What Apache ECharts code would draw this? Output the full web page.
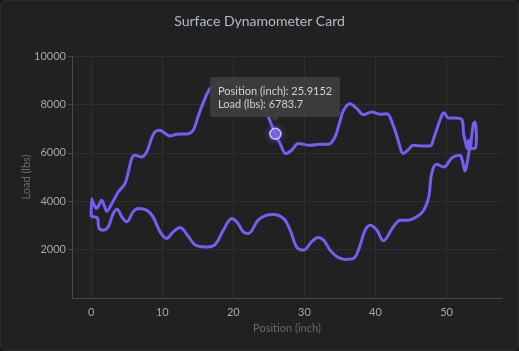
<!DOCTYPE html>
<html>
<head>
<meta charset="utf-8">
<script src="https://cdn.jsdelivr.net/npm/echarts@6/dist/echarts.min.js"></script>
<style>
  html, body { margin: 0; padding: 0; background: #171717; }
  #chart { width: 517px; height: 349px; background: #212121; border: 1px solid #2c2c2c; border-radius: 6px; }
</style>
</head>
<body>
<div id="chart"></div>
<script>
// position (inch) and load (lbs) around the card, upstroke then downstroke
const positions = [
  0.0, 0.05, 0.4, 0.76, 1.1, 1.46, 1.8, 2.2, 2.9, 3.8, 4.75, 5.3, 5.7, 6.15, 7.1, 7.8, 8.5, 8.97, 9.66, 10.5,
  11.1, 12.0, 13.7, 14.4, 15.1, 15.8, 16.7, 17.4, 18.2, 19.5, 21.0, 22.5, 23.8, 24.5, 24.93, 25.9152, 26.58, 27.4, 28.2, 29.15,
  30.8, 32.2, 33.4, 34.3, 35.0, 35.5, 36.4, 37.4, 38.3, 39.5, 40.66, 41.6, 42.5, 43.2, 43.9, 44.5, 45.35, 46.5, 47.7, 48.2,
  48.65, 49.2, 49.6, 50.3, 51.2, 52.2, 52.4, 52.6, 52.9, 53.1, 53.3, 53.6, 53.8, 54.0, 54.2, 54.0, 53.3, 53.2, 52.9, 52.6,
  52.2, 51.9, 50.8, 49.6, 48.6, 47.9, 47.5, 46.8, 45.8, 44.65, 43.5, 42.5, 41.1, 40.2, 39.25, 38.55, 37.6, 36.9, 35.7, 34.6,
  33.6, 32.7, 31.9, 31.0, 29.9, 28.9, 28.0, 27.05, 25.6, 24.7, 23.5, 22.1, 21.4, 20.6, 19.8, 18.6, 17.4, 16.0, 14.6, 13.7,
  12.5, 11.55, 10.6, 9.7, 8.7, 7.8, 6.6, 5.9, 5.0, 4.3, 3.66, 3.1, 2.4, 1.7, 1.08, 0.9, 0.28, 0.0
];
const loads = [
  3350, 4100, 3850, 3700, 3850, 4040, 3850, 3580, 3900, 4380, 4730, 5300, 5760, 5897, 5830, 6030, 6600, 6858, 6928, 6780,
  6693, 6763, 6790, 6957, 7550, 8095, 8648, 8784, 8900, 8950, 8800, 8700, 8300, 7800, 7477, 6783.7, 6380, 5967, 6104, 6380,
  6310, 6351, 6351, 6652, 7300, 7753, 8029, 7823, 7575, 7683, 7588, 7617, 7135, 6500, 5967, 6100, 6310, 6281, 6281, 6600,
  6998, 7450, 7658, 7436, 7436, 7341, 6792, 6516, 6174, 6516, 6174, 6858, 7204, 7270, 6586, 6174, 6174, 6104, 5600, 5250,
  5700, 5897, 5802, 5415, 5526, 5142, 4178, 3629, 3353, 3217, 3217, 2940, 2363, 2804, 3010, 2804, 1980, 1637, 1596, 1703,
  1980, 2392, 2503, 2322, 1980, 2116, 2804, 3287, 3452, 3423, 3217, 2668, 2734, 3100, 3287, 2804, 2200, 2110, 2200, 2528,
  2916, 2734, 2462, 2734, 3353, 3629, 3699, 3559, 3147, 3353, 3670, 3493, 2940, 2804, 2900, 3287, 3353, 3350
];
// the point the tooltip is showing
const hoverPoint = [25.9152, 6783.7];

const cardData = positions.map(function (p, i) { return [p, loads[i]]; });

const fontFamily = 'Lato, "Open Sans", sans-serif';
let myChart = echarts.init(document.getElementById('chart'));
myChart.setOption({
  animation: false,
  backgroundColor: 'transparent',
  title: {
    text: 'Surface Dynamometer Card',
    left: 'center',
    top: 8,
    textStyle: { color: '#aebdcc', fontSize: 14, fontWeight: 'normal', fontFamily: fontFamily }
  },
  grid: { left: 71, right: 16, top: 55, bottom: 52 },
  tooltip: {
    trigger: 'item',
    triggerOn: 'none',
    alwaysShowContent: true,
    transitionDuration: 0,
    position: 'top',
    backgroundColor: 'rgba(60,60,60,0.96)',
    borderWidth: 0,
    padding: [7, 8],
    textStyle: { color: '#d2d2d2', fontSize: 11, fontFamily: fontFamily, lineHeight: 13 },
    extraCssText: 'box-shadow:none;border-radius:3px;margin-top:-3px;',
    formatter: function (p) {
      return 'Position (inch): ' + p.value[0] + '<br/>Load (lbs): ' + p.value[1];
    }
  },
  xAxis: {
    type: 'value',
    min: -2.7,
    max: 57.8,
    name: 'Position (inch)',
    nameLocation: 'middle',
    nameGap: 25,
    nameTextStyle: { color: '#6a6a6a', fontSize: 11, fontFamily: fontFamily },
    axisLine: { show: true, onZero: false, lineStyle: { color: '#4a4a4a' } },
    axisTick: { show: false },
    axisLabel: { color: '#a8a8a8', fontSize: 11, fontFamily: fontFamily, showMinLabel: false, showMaxLabel: false, margin: 9 },
    splitLine: { show: true, showMinLine: false, showMaxLine: false, lineStyle: { color: '#2f2f2f' } }
  },
  yAxis: {
    type: 'value',
    min: 0,
    max: 10000,
    interval: 2000,
    name: 'Load (lbs)',
    nameLocation: 'middle',
    nameGap: 40,
    nameMoveOverlap: false,
    nameTextStyle: { color: '#6a6a6a', fontSize: 11, fontFamily: fontFamily },
    axisLine: { show: true, onZero: false, lineStyle: { color: '#4a4a4a' } },
    axisTick: { show: true, length: 4, lineStyle: { color: '#4a4a4a' } },
    axisLabel: {
      color: '#a8a8a8', fontSize: 11, fontFamily: fontFamily, showMinLabel: false, margin: 6,
      formatter: function (v) { return String(v); }
    },
    splitLine: { show: true, showMinLine: false, lineStyle: { color: '#2f2f2f' } }
  },
  series: [
    {
      name: 'Card',
      type: 'line',
      data: cardData,
      smooth: 0.35,
      showSymbol: false,
      silent: true,
      lineStyle: { color: '#7b5bf5', width: 3 },
      z: 2
    },
    {
      name: 'Hover',
      type: 'scatter',
      data: [hoverPoint],
      symbolSize: 11,
      itemStyle: {
        color: '#8a6cff',
        borderColor: '#e8e4ff',
        borderWidth: 1.5,
        shadowBlur: 7,
        shadowColor: 'rgba(110,80,240,0.9)'
      },
      z: 3
    }
  ]
});
myChart.dispatchAction({ type: 'showTip', seriesIndex: 1, dataIndex: 0 });
</script>
</body>
</html>
